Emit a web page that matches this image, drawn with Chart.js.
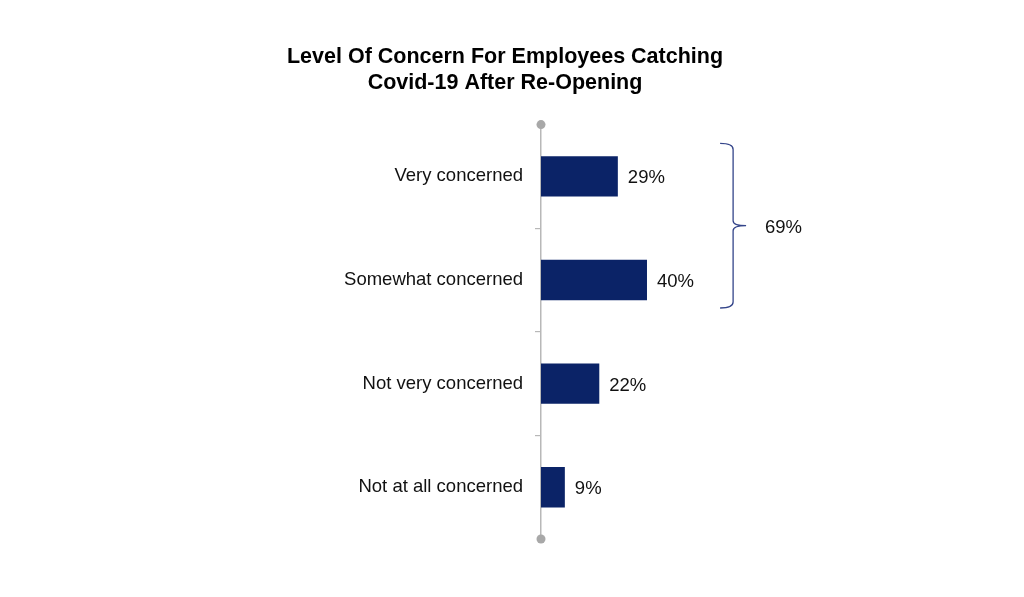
<!DOCTYPE html>
<html>
<head>
<meta charset="utf-8">
<script src="https://cdn.jsdelivr.net/npm/chart.js@4"></script>
<style>
  html, body { margin: 0; padding: 0; background: #fff; }
  #wrap { width: 1024px; height: 597px; }
</style>
</head>
<body>
<div id="wrap"><canvas id="concernChart"></canvas></div>
<script>
const categories = ['Very concerned', 'Somewhat concerned', 'Not very concerned', 'Not at all concerned'];
const shares = [29, 40, 22, 9];
const titleLines = ['Level Of Concern For Employees Catching', 'Covid-19 After Re-Opening'];
const groupTotal = '69%';   // very + somewhat

const FONT = '"Liberation Sans", Arial, sans-serif';
const NAVY = '#0b2367';
const AXIS_GREY = '#b8b8b8';

// bar value labels, end dots of the axis, bracket for the top two bars
const decorations = {
    id: 'decorations',
    afterDatasetsDraw(chart) {
        const ctx = chart.ctx;
        const x = chart.scales.x, y = chart.scales.y;
        const area = chart.chartArea;

        ctx.save();
        ctx.font = '18.5px ' + FONT;
        ctx.fillStyle = '#111';
        ctx.textBaseline = 'middle';
        chart.getDatasetMeta(0).data.forEach((bar, i) => {
            ctx.fillText(shares[i] + '%', bar.x + 10, bar.y + 2);
        });

        // dots at both ends of the axis
        ctx.fillStyle = '#a8a8a8';
        [area.top, area.bottom].forEach(py => {
            ctx.beginPath();
            ctx.arc(area.left, py, 4.5, 0, Math.PI * 2);
            ctx.fill();
        });

        // bracket
        const bx = x.getPixelForValue(72.5);
        const top = y.getPixelForValue(0) - 33;
        const bot = y.getPixelForValue(1) + 28;
        const mid = (top + bot) / 2;
        ctx.strokeStyle = '#34458a';
        ctx.lineWidth = 1.3;
        ctx.beginPath();
        ctx.moveTo(bx - 13, top);
        ctx.quadraticCurveTo(bx, top, bx, top + 6);
        ctx.lineTo(bx, mid - 5);
        ctx.quadraticCurveTo(bx, mid, bx + 13, mid);
        ctx.moveTo(bx + 13, mid);
        ctx.quadraticCurveTo(bx, mid, bx, mid + 5);
        ctx.lineTo(bx, bot - 6);
        ctx.quadraticCurveTo(bx, bot, bx - 13, bot);
        ctx.stroke();

        ctx.fillStyle = '#111';
        ctx.font = '18.5px ' + FONT;
        ctx.fillText(groupTotal, x.getPixelForValue(84.5), mid + 2);
        ctx.restore();
    }
};

const ctx = document.getElementById('concernChart').getContext('2d');
const concernChart = new Chart(ctx, {
    type: 'bar',
    data: {
        labels: categories,
        datasets: [{
            data: shares,
            backgroundColor: NAVY,
            barPercentage: 0.39,
            categoryPercentage: 1
        }]
    },
    options: {
        indexAxis: 'y',
        responsive: true,
        maintainAspectRatio: false,
        animation: false,
        layout: { padding: { left: 0, right: 14, top: 0, bottom: 58 } },
        plugins: {
            legend: { display: false },
            tooltip: { enabled: false },
            title: {
                display: true,
                text: titleLines,
                color: '#000',
                font: { family: FONT, size: 21.5, weight: 'bold', lineHeight: 1.2 },
                padding: { top: 44, bottom: 29 }
            }
        },
        scales: {
            x: { display: false, min: 0, max: 177 },
            y: {
                afterFit(scale) { scale.width = 541; },
                border: { color: AXIS_GREY, width: 1.5 },
                grid: {
                    drawOnChartArea: false,
                    tickLength: 6,
                    lineWidth: 1.2,
                    // no tick marks at the two ends, the dots sit there
                    color: c => (c.type !== 'tick' || c.index === 0) ? 'rgba(0,0,0,0)' : AXIS_GREY
                },
                ticks: { color: '#111', padding: 12, font: { family: FONT, size: 18.5 } }
            }
        }
    },
    plugins: [decorations]
});
</script>
</body>
</html>
